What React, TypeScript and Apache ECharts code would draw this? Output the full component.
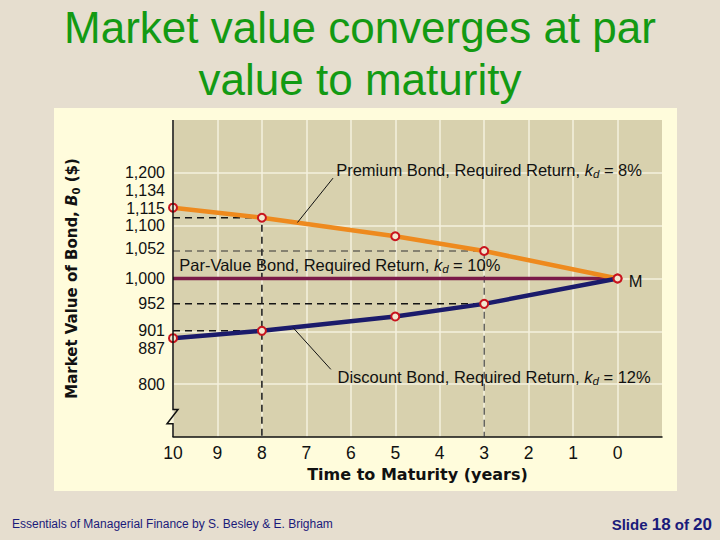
import React, { useEffect, useRef } from "react";
import * as echarts from "echarts";

// ---- data ----
const years = [10, 8, 5, 3, 0];
const premiumValues = [1134, 1115, 1080, 1052, 1000];
const discountValues = [887, 901, 928, 952, 1000];
const parYears = [10, 0];
const parValues = [1000, 1000];
const yTickValues = [800, 887, 901, 952, 1000, 1052, 1100, 1115, 1134, 1200];
const yGridValues = [800, 900, 1000, 1100, 1200];
const xTickValues = [10, 9, 8, 7, 6, 5, 4, 3, 2, 1, 0];
const guideSegments: number[][][] = [
  [[10, 1115], [8, 1115], [8, 700]],
  [[10, 901], [8, 901]],
  [[10, 1052], [3, 1052], [3, 700]],
  [[10, 952], [3, 952]],
];

// ---- style ----
const F = "Liberation Sans, Arial, sans-serif";
const FB = "DejaVu Sans, Liberation Sans, sans-serif";
const labelShift: Record<number, string> = { 1134: "u35", 1115: "u19", 1052: "u6", 887: "d21" };

export default function App() {
  const ref = useRef<HTMLDivElement>(null);
  useEffect(() => {
    const el = ref.current!;
    const chart = echarts.init(el, null, { renderer: "svg" });
    const lblBase = { fontSize: 16, fontFamily: F, color: "#111" };
    const option: any = {
      animation: false,
      backgroundColor: "#E6DECF",
      grid: {
        left: 173, right: 58, top: 120, bottom: 103,
        show: true, backgroundColor: "#D8D1AE", borderWidth: 0,
      },
      xAxis: {
        type: "value", inverse: true, min: -1, max: 10, interval: 1,
        axisLine: { show: true, lineStyle: { color: "#111", width: 1.5 } },
        axisTick: { show: false, customValues: xTickValues },
        axisLabel: { customValues: xTickValues, fontSize: 17.5, fontFamily: F, color: "#111", margin: 7 },
        splitLine: { show: true, lineStyle: { color: "#F4F0DE", width: 1.5 } },
        name: "Time to Maturity (years)", nameLocation: "middle", nameGap: 28,
        nameTextStyle: { fontSize: 16, fontWeight: "bold", fontFamily: FB, color: "#111" },
      },
      yAxis: [
        {
          type: "value", min: 700, max: 1300,
          axisLine: { show: false },
          axisTick: { show: false, customValues: yTickValues },
          axisLabel: {
            customValues: yTickValues, margin: 8, ...lblBase,
            formatter: (v: number) => {
              const s = v.toLocaleString("en-US");
              const k = labelShift[v];
              return k ? `{${k}|${s}}` : s;
            },
            rich: {
              u35: { ...lblBase, padding: [0, 0, 35, 0] },
              u19: { ...lblBase, padding: [0, 0, 19, 0] },
              u6: { ...lblBase, padding: [0, 0, 6, 0] },
              d21: { ...lblBase, padding: [21, 0, 0, 0] },
            },
          },
          splitLine: { show: false },
          name: "{b|Market Value of Bond, }{bi|B}{sub|0}{b| ($)}",
          nameLocation: "middle", nameGap: 92, nameRotate: 90,
          nameTextStyle: {
            rich: {
              b: { fontSize: 15, fontWeight: "bold", fontFamily: FB, color: "#111" },
              bi: { fontSize: 15, fontWeight: "bold", fontStyle: "italic", fontFamily: FB, color: "#111" },
              sub: { fontSize: 10, fontWeight: "bold", fontFamily: FB, color: "#111", padding: [8, 0, 0, 0] },
            },
          },
        },
        {
          type: "value", min: 700, max: 1300, position: "left",
          axisLine: { show: false },
          axisTick: { show: false, customValues: yGridValues },
          axisLabel: { show: false },
          splitLine: { show: true, lineStyle: { color: "#F4F0DE", width: 1.5 } },
        },
      ],
      series: [
        ...guideSegments.map((seg, i) => ({
          type: "line", data: seg, symbol: "none", silent: true, z: 2,
          lineStyle: { color: i === 2 ? "#333" : "#151515", width: i === 2 ? 1.1 : 1.5, type: [7, 5] },
        })),
        {
          type: "line", data: parYears.map((x, i) => [x, parValues[i]]), symbol: "none", z: 3,
          lineStyle: { color: "#7A1A48", width: 3.5 },
        },
        {
          type: "line", data: years.map((x, i) => [x, premiumValues[i]]), z: 4,
          symbol: "circle", symbolSize: 8,
          lineStyle: { color: "#EE8A1E", width: 4.5 },
          itemStyle: { color: "#F2E7D0", borderColor: "#C8141E", borderWidth: 2 },
        },
        {
          type: "line", data: years.map((x, i) => [x, discountValues[i]]), z: 4,
          symbol: "circle", symbolSize: 8,
          lineStyle: { color: "#1B1B6B", width: 4.5 },
          itemStyle: { color: "#F2E7D0", borderColor: "#C8141E", borderWidth: 2 },
        },
      ],
    };
    chart.setOption(option);

    const sIdx = guideSegments.length + 1;
    const p = (x: number, y: number) => chart.convertToPixel({ seriesIndex: sIdx }, [x, y]) as number[];
    const top = p(10, 1300), bot = p(10, 700), zt = p(10, 752), zb = p(10, 725);
    const ax = top[0];
    const annRich = {
      n: { fontSize: 16.5, fontFamily: F, fill: "#111" },
      k: { fontSize: 16.5, fontFamily: F, fontStyle: "italic", fill: "#111" },
      d: { fontSize: 11.5, fontFamily: F, fontStyle: "italic", fill: "#111", padding: [8, 0, 0, 0] },
    };
    const ann = (x: number, y: number, text: string) => {
      const q = p(x, y);
      return { type: "text", z: 10, style: { x: q[0], y: q[1], text, rich: annRich, verticalAlign: "middle", align: "left" } };
    };
    const leader = (a: number[], b: number[]) => {
      const q1 = p(a[0], a[1]), q2 = p(b[0], b[1]);
      return { type: "line", z: 10, shape: { x1: q1[0], y1: q1[1], x2: q2[0], y2: q2[1] }, style: { stroke: "#111", lineWidth: 1 } };
    };
    const mPos = p(-0.25, 996);
    chart.setOption({
      graphic: [
        { type: "rect", z: -10, shape: { x: 54, y: 108, width: 623, height: 383 }, style: { fill: "#FFFCDC" } },
        {
          type: "polyline", z: 10,
          shape: { points: [[ax, top[1]], [ax, zt[1]], [ax + 5, zt[1]], [ax - 6, zb[1]], [ax, zb[1]], [ax, bot[1]]] },
          style: { stroke: "#111", lineWidth: 1.5, fill: null },
        },
        leader([6.4, 1190], [7.2, 1106]),
        leader([6.45, 828], [7.3, 907]),
        ann(6.33, 1206, "{n|Premium Bond, Required Return, }{k|k}{d|d}{n| = 8%}"),
        ann(9.86, 1025, "{n|Par-Value Bond, Required Return, }{k|k}{d|d}{n| = 10%}"),
        ann(6.3, 813, "{n|Discount Bond, Required Return, }{k|k}{d|d}{n| = 12%}"),
        { type: "text", z: 10, style: { x: mPos[0], y: mPos[1], text: "M", fontSize: 16.5, fontFamily: F, fill: "#111", verticalAlign: "middle" } },
        { type: "text", z: 10, style: { x: 360, y: 27, text: "Market value converges at par", fontSize: 44, fontFamily: F, fill: "#139A13", align: "center", verticalAlign: "middle" } },
        { type: "text", z: 10, style: { x: 360, y: 79, text: "value to maturity", fontSize: 44, fontFamily: F, fill: "#139A13", align: "center", verticalAlign: "middle" } },
        { type: "text", z: 10, style: { x: 12, y: 524, text: "Essentials of Managerial Finance by S. Besley & E. Brigham", fontSize: 12, fontFamily: "Liberation Sans Narrow, Arial Narrow, Liberation Sans, sans-serif", fill: "#1A1A7A", verticalAlign: "middle" } },
        {
          type: "text", z: 10,
          style: {
            x: 712, y: 524, text: "{s|Slide }{b|18}{s| of }{b|20}", align: "right", verticalAlign: "middle",
            rich: {
              s: { fontSize: 15, fontWeight: "bold", fontFamily: F, fill: "#1A1A7A" },
              b: { fontSize: 17, fontWeight: "bold", fontFamily: F, fill: "#1A1A7A" },
            },
          },
        },
      ],
    });
    return () => chart.dispose();
  }, []);
  return <div ref={ref} style={{ position: "absolute", left: 0, top: 0, width: 720, height: 540 }} />;
}
